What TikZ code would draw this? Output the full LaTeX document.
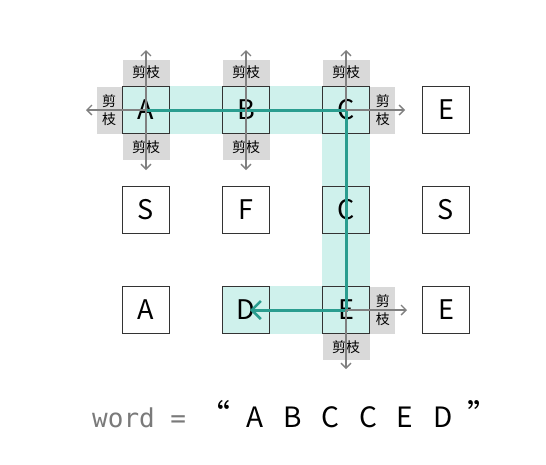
\documentclass[tikz,border=0pt]{standalone}
\usepackage{fontspec}
\setmainfont{Noto Sans CJK SC}
\setmonofont{DejaVu Sans Mono}
\usetikzlibrary{arrows.meta,positioning,backgrounds}
\definecolor{band}{HTML}{CFF1EC}
\definecolor{pathc}{HTML}{2A9D8F}
\definecolor{lblgray}{HTML}{D9D9D9}
\definecolor{arrgray}{HTML}{808080}
\definecolor{boxline}{HTML}{333333}
\definecolor{wordgray}{HTML}{7A7A7A}
\begin{document}
\begin{tikzpicture}[x=1pt,y=-1pt,
 cell/.style={draw=boxline,line width=1.4pt,minimum width=47pt,minimum height=47pt,inner sep=0pt,font=\fontsize{27}{27}\selectfont},
 hl/.style={cell,fill=band},
 hlbl/.style={fill=lblgray,minimum width=47pt,minimum height=26pt,inner sep=0pt,font=\fontsize{14}{14}\selectfont},
 vlbl/.style={fill=lblgray,minimum width=25pt,minimum height=47pt,inner sep=0pt,align=center,font=\fontsize{14}{18}\selectfont},
 prune/.style={draw=arrgray,line width=1.4pt,-{Straight Barb[length=5pt,width=10pt]}},
 trail/.style={draw=pathc,line width=3pt},
 bigtxt/.style={anchor=base,inner sep=0pt,font=\fontsize{28}{28}\selectfont},
 quote/.style={anchor=base,inner sep=0pt,font=\fontsize{32}{32}\selectfont},
]
\useasboundingbox (0,0) rectangle (546,464);

% grid
\node[hl]   (A1) at (146,110) {A};
\node[hl]   (B1) at (246,110) {B};
\node[hl]   (C1) at (346,110) {C};
\node[cell] (E1) at (446,110) {E};
\node[cell] (S2) at (146,210) {S};
\node[cell] (F2) at (246,210) {F};
\node[hl]   (C2) at (346,210) {C};
\node[cell] (S4) at (446,210) {S};
\node[cell] (A3) at (146,310) {A};
\node[hl]   (D3) at (246,310) {D};
\node[hl]   (E3) at (346,310) {E};
\node[cell] (E4) at (446,310) {E};

\begin{scope}[on background layer]
 \fill[band] (A1.north west) rectangle (C1.south east);
 \fill[band] (C1.north west) rectangle (E3.south east);
 \fill[band] (D3.north west) rectangle (E3.south east);
\end{scope}

% pruning labels
\node[hlbl,above=0pt of A1] (pAu) {剪枝};
\node[hlbl,below=0pt of A1] (pAd) {剪枝};
\node[vlbl,left=0pt of A1]  (pAl) {剪\\枝};
\node[hlbl,above=0pt of B1] (pBu) {剪枝};
\node[hlbl,below=0pt of B1] (pBd) {剪枝};
\node[hlbl,above=0pt of C1] (pCu) {剪枝};
\node[vlbl,right=0pt of C1] (pCr) {剪\\枝};
\node[vlbl,right=0pt of E3] (pEr) {剪\\枝};
\node[hlbl,below=0pt of E3] (pEd) {剪枝};

% search path
\coordinate (tip) at (250,310);
\draw[trail,-{Straight Barb[length=9pt,width=18pt,line width=2.6pt]}] (A1.center) -- (C1.center) -- (E3.center) -- (tip);

% pruning arrows
\coordinate (tAu) at (146,50);
\coordinate (tAd) at (146,170);
\coordinate (tAl) at (86,110);
\coordinate (tBu) at (246,50);
\coordinate (tBd) at (246,170);
\coordinate (tCu) at (346,50);
\coordinate (tCr) at (405,110);
\coordinate (tEr) at (407,310);
\coordinate (tEd) at (346,369);
\draw[prune] (A1.center) -- (tAu);
\draw[prune] (A1.center) -- (tAd);
\draw[prune] (A1.center) -- (tAl);
\draw[prune] (B1.center) -- (tBu);
\draw[prune] (B1.center) -- (tBd);
\draw[prune] (C1.center) -- (tCu);
\draw[prune] (C1.center) -- (tCr);
\draw[prune] (E3.center) -- (tEr);
\draw[prune] (E3.center) -- (tEd);

% word
\node[anchor=base west,inner sep=0pt,text=wordgray,font=\ttfamily\fontsize{26}{26}\selectfont] (w) at (92,427) {word =};
\node[quote] (q1) at (214,427) {“};
\node[bigtxt] (l1) at (255,427) {A};
\node[bigtxt] (l2) at (293,427) {B};
\node[bigtxt] (l3) at (330,427) {C};
\node[bigtxt] (l4) at (368,427) {C};
\node[bigtxt] (l5) at (405,427) {E};
\node[bigtxt] (l6) at (443,427) {D};
\node[quote] (q2) at (483,427) {”};
\end{tikzpicture}
\end{document}
